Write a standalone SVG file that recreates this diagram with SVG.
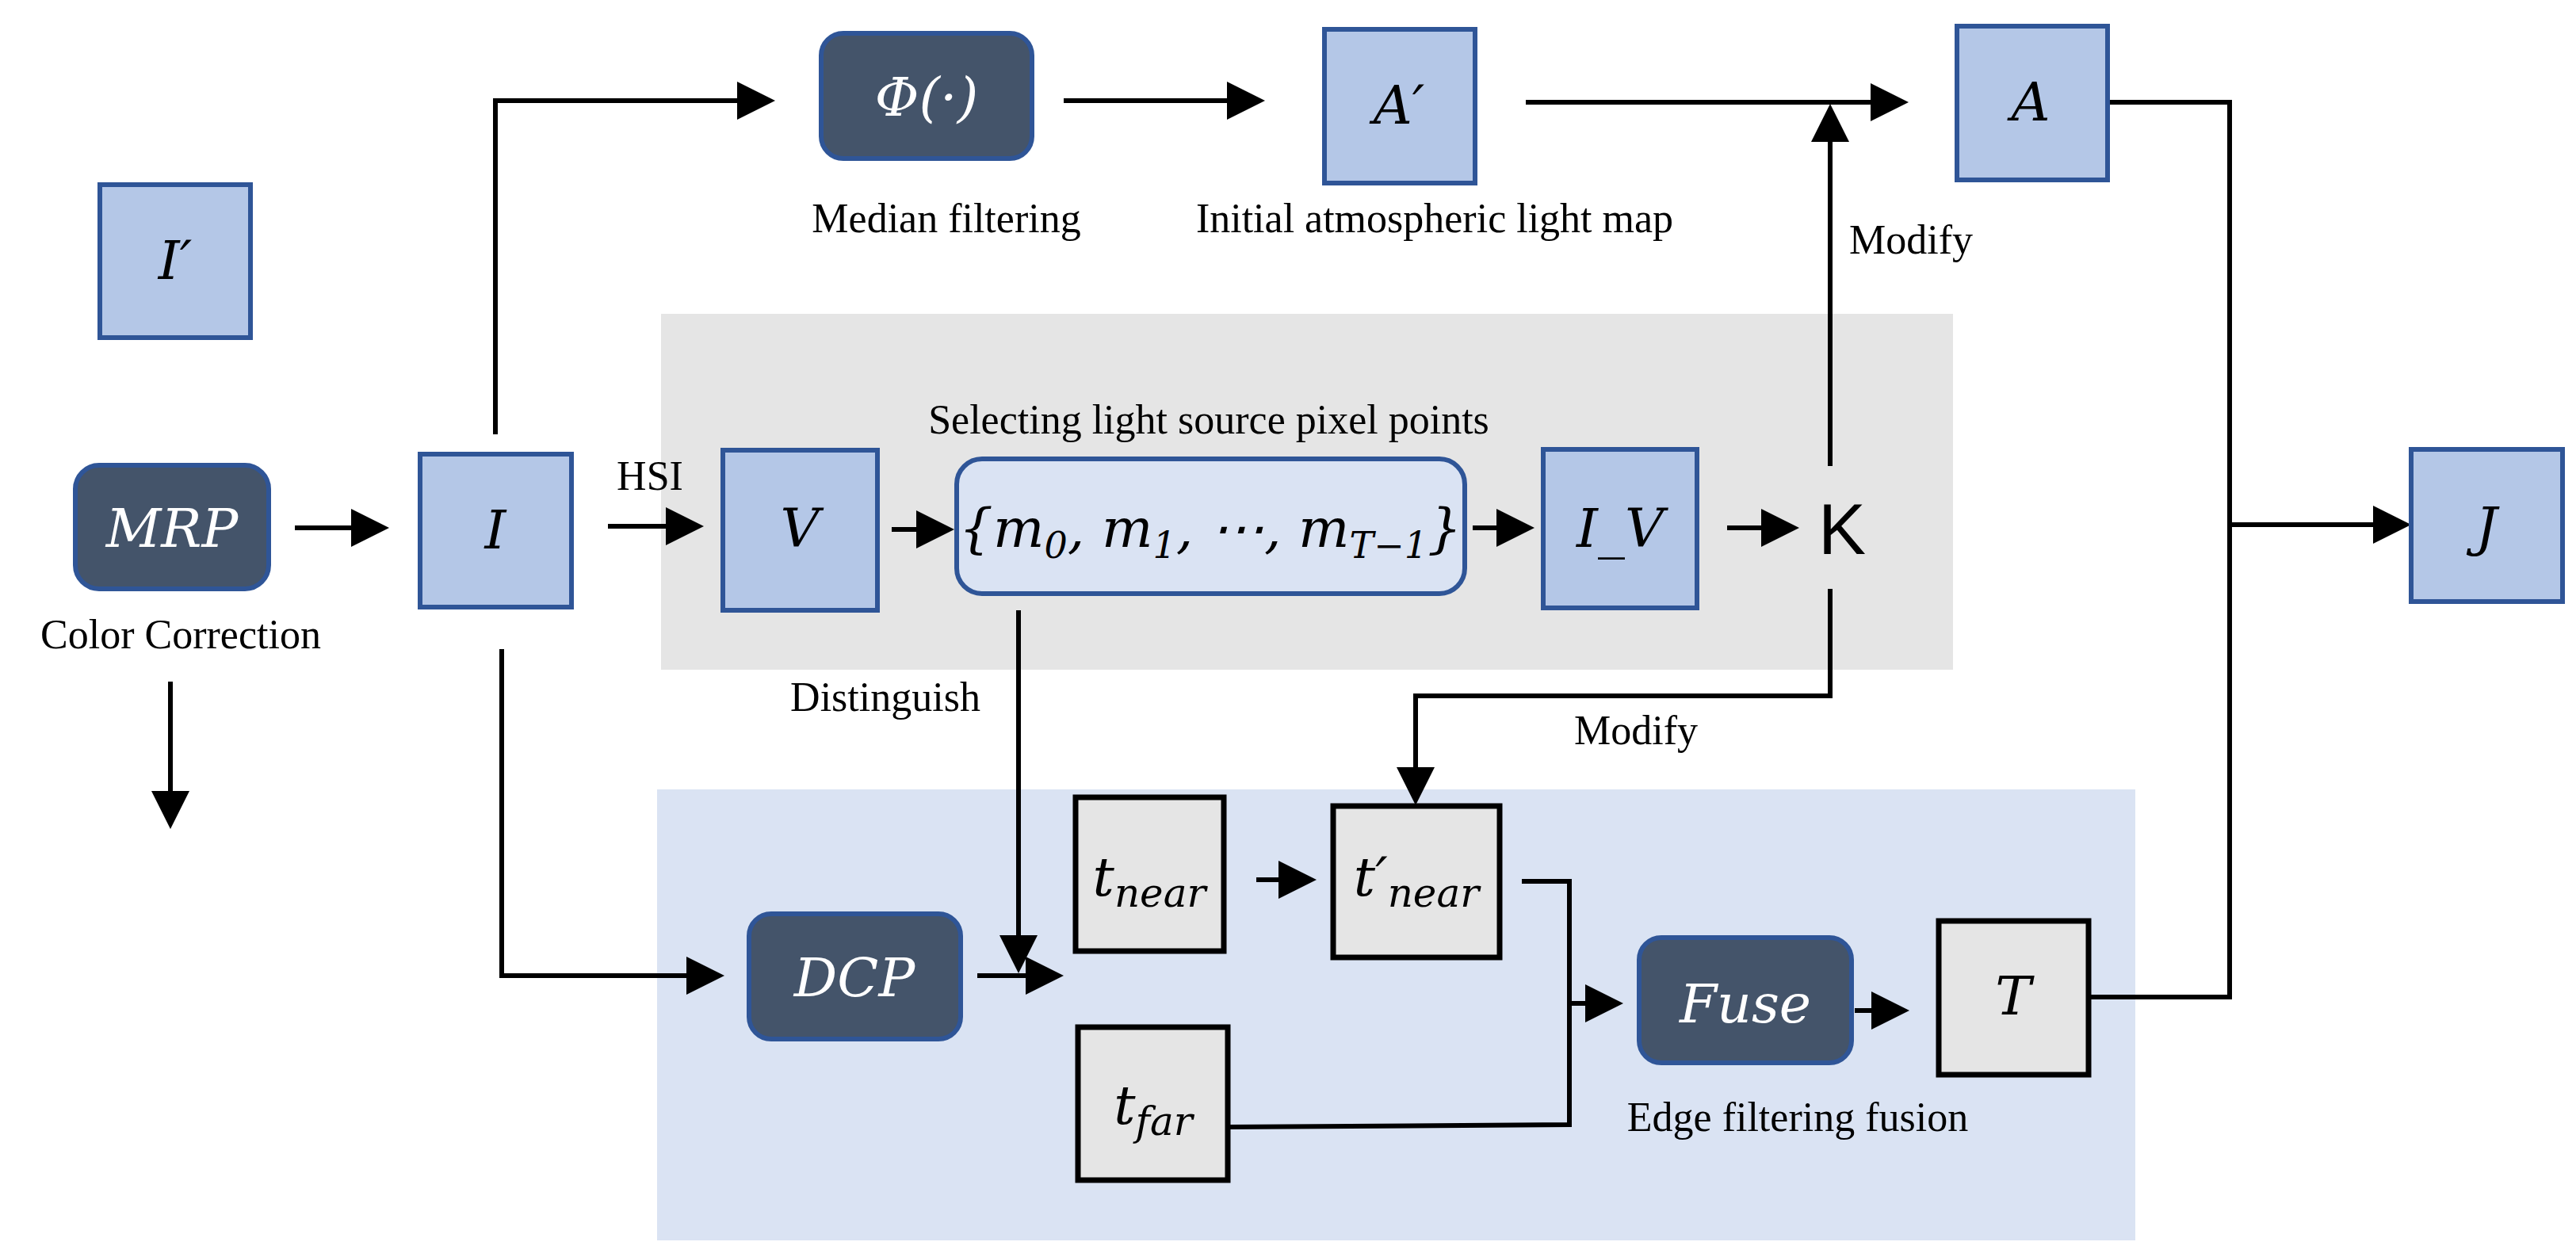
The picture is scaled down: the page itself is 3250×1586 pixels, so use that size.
<svg xmlns="http://www.w3.org/2000/svg" width="3250" height="1586" viewBox="0 0 3250 1586">
<style>
.lb{fill:#b4c7e7;stroke:#2f5597;stroke-width:6}
.dk{fill:#44546a;stroke:#2f5597;stroke-width:6}
.gr{fill:#e5e5e5;stroke:#000;stroke-width:7}
.ln{fill:none;stroke:#000;stroke-width:6}
.lab{font-family:"Liberation Serif",serif;font-size:52px;fill:#000;text-anchor:middle}
.m{font-family:"DejaVu Serif","Liberation Serif",serif;font-style:italic;font-size:68px;fill:#000;text-anchor:middle}
.w{fill:#fff}
</style>
<defs>
<marker id="ah" markerWidth="8" markerHeight="8" refX="7" refY="4" orient="auto" markerUnits="strokeWidth">
<path d="M0,0 L8,4 L0,8 Z" fill="#000"/>
</marker>
</defs>
<rect x="834" y="396" width="1630" height="449" fill="#e5e5e5"/>
<rect x="829" y="996" width="1865" height="569" fill="#dae3f3"/>
<g id="connectors" class="ln">
<path d="M215,860 V1040" marker-end="url(#ah)"/>
<path d="M372,666 H485" marker-end="url(#ah)"/>
<path d="M625,548 V127 H972" marker-end="url(#ah)"/>
<path d="M1342,127 H1590" marker-end="url(#ah)"/>
<path d="M1925,129 H2402" marker-end="url(#ah)"/>
<path d="M767,664 H882" marker-end="url(#ah)"/>
<path d="M1125,668 H1198" marker-end="url(#ah)"/>
<path d="M1858,666 H1930" marker-end="url(#ah)"/>
<path d="M2179,666 H2264" marker-end="url(#ah)"/>
<path d="M2309,588 V137" marker-end="url(#ah)"/>
<path d="M2659,129 H2813 V1258 H2635"/>
<path d="M2813,662 H3036" marker-end="url(#ah)"/>
<path d="M2309,743 V878 H1786 V1010" marker-end="url(#ah)"/>
<path d="M633,819 V1231 H908" marker-end="url(#ah)"/>
<path d="M1285,770 V1222" marker-end="url(#ah)"/>
<path d="M1233,1231 H1336" marker-end="url(#ah)"/>
<path d="M1585,1110 H1655" marker-end="url(#ah)"/>
<path d="M1920,1112 H1980 V1419 L1549,1422"/>
<path d="M1980,1266 H2042" marker-end="url(#ah)"/>
<path d="M2340,1275 H2403" marker-end="url(#ah)"/>
</g>
<g id="n-Iprime"><rect class="lb" x="126" y="233" width="190" height="193"/><text class="m" x="221" y="352">I′</text></g>
<g id="n-MRP"><rect class="dk" x="95" y="587" width="244" height="156" rx="30"/><text class="m w" x="217" y="690">MRP</text><text class="lab" x="228" y="818">Color Correction</text></g>
<g id="n-I"><rect class="lb" x="530" y="573" width="191" height="193"/><text class="m" x="625" y="692">I</text></g>
<g id="n-Phi"><rect class="dk" x="1036" y="42" width="266" height="158" rx="28"/><text class="m w" x="1169" y="146">Φ(·)</text><text class="lab" x="1194" y="293">Median filtering</text></g>
<g id="n-Aprime"><rect class="lb" x="1671" y="37" width="190" height="194"/><text class="m" x="1765" y="156">A′</text><text class="lab" x="1810" y="293">Initial atmospheric light map</text></g>
<g id="n-A"><rect class="lb" x="2469" y="33" width="190" height="194"/><text class="m" x="2562" y="152">A</text></g>
<text class="lab" x="2411" y="320">Modify</text>
<text class="lab" x="820" y="618">HSI</text>
<g id="n-V"><rect class="lb" x="912" y="568" width="195" height="202"/><text class="m" x="1009" y="690">V</text></g>
<text class="lab" x="1525" y="547">Selecting light source pixel points</text>
<g id="n-set"><rect x="1207" y="579" width="641" height="170" rx="32" fill="#dae3f3" stroke="#2f5597" stroke-width="6"/><text class="m" x="1527" y="690">{m<tspan font-size="46" dy="14">0</tspan><tspan dy="-14">, m</tspan><tspan font-size="46" dy="14">1</tspan><tspan dy="-14">, ⋯, m</tspan><tspan font-size="46" dy="14">T−1</tspan><tspan dy="-14">}</tspan></text></g>
<g id="n-IV"><rect class="lb" x="1947" y="567" width="194" height="200"/><text class="m" x="2044" y="690">I_V</text></g>
<g id="n-K"><text x="2324" y="699" font-family="Liberation Sans,sans-serif" font-size="90" text-anchor="middle">K</text></g>
<g id="n-J"><rect class="lb" x="3042" y="567" width="191" height="192"/><text class="m" x="3137" y="688">J</text></g>
<text class="lab" x="1117" y="897">Distinguish</text>
<text class="lab" x="2064" y="939">Modify</text>
<g id="n-DCP"><rect class="dk" x="945" y="1153" width="267" height="158" rx="28"/><text class="m w" x="1078" y="1257">DCP</text></g>
<g id="n-tnear"><rect class="gr" x="1357" y="1006" width="187" height="194"/><text class="m" x="1450" y="1130">t<tspan font-size="50" dy="14">near</tspan></text></g>
<g id="n-tfar"><rect class="gr" x="1360" y="1296" width="189" height="193"/><text class="m" x="1455" y="1418">t<tspan font-size="50" dy="14">far</tspan></text></g>
<g id="n-tpnear"><rect class="gr" x="1682" y="1017" width="210" height="191"/><text class="m" x="1787" y="1130">t′<tspan font-size="50" dy="14">near</tspan></text></g>
<g id="n-Fuse"><rect class="dk" x="2068" y="1183" width="268" height="158" rx="28"/><text class="m w" x="2202" y="1290">Fuse</text><text class="lab" x="2268" y="1427">Edge filtering fusion</text></g>
<g id="n-T"><rect class="gr" x="2446" y="1162" width="189" height="194"/><text class="m" x="2540" y="1280">T</text></g>
</svg>
